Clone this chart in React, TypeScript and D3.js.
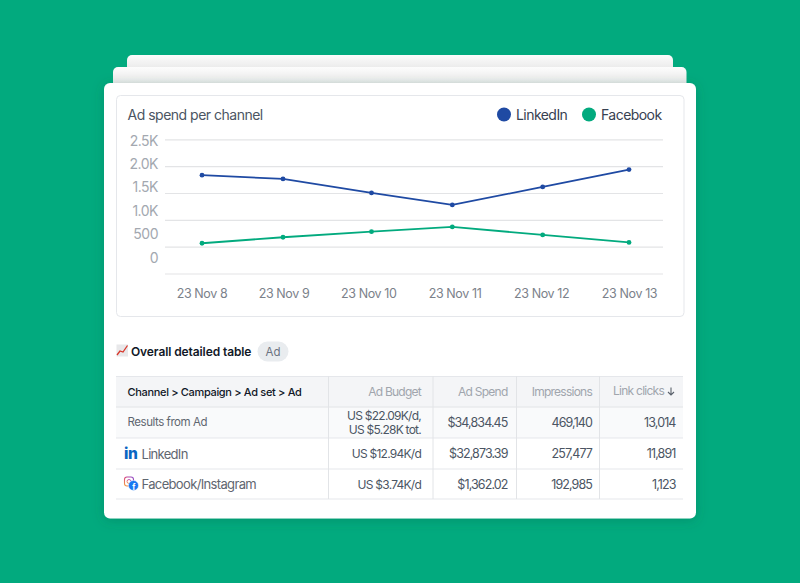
import React from "react";
import * as d3 from "d3";

const days = ["23 Nov 8", "23 Nov 9", "23 Nov 10", "23 Nov 11", "23 Nov 12", "23 Nov 13"];
const dayCentres = [202, 283, 371.5, 452.3, 542.7, 629];
const dayLabelCentres = [202, 284, 368.8, 455, 541.7, 629.5];
const linkedin = [1841, 1772, 1511, 1287, 1623, 1946];
const facebook = [573, 685, 789, 877, 728, 588];
const gridValues = [0, 500, 1000, 1500, 2000, 2500];
const yLabels = ["2.5K", "2.0K", "1.5K", "1.0K", "500", "0"];
const headers = ["Channel > Campaign > Ad set > Ad", "Ad Budget", "Ad Spend", "Impressions", "Link clicks"];
const rowNames = ["Results from Ad", "LinkedIn", "Facebook/Instagram"];
const budgets = [["US $22.09K/d,", "US $5.28K tot."], ["US $12.94K/d"], ["US $3.74K/d"]];
const spends = ["$34,834.45", "$32,873.39", "$1,362.02"];
const impressions = ["469,140", "257,477", "192,985"];
const clicks = ["13,014", "11,891", "1,123"];

const BLUE = "#1f4aa3";
const GREEN = "#02aa7e";
const FONT = "Inter, sans-serif";

export default function App() {
  const x = d3.scaleOrdinal<string, number>().domain(days).range(dayCentres);
  const xLabel = d3.scaleOrdinal<string, number>().domain(days).range(dayLabelCentres);
  const y = d3.scaleLinear().domain([0, 2500]).range([274, 139.8]);
  const labelY = d3.scalePoint<string>().domain(yLabels).range([140.5, 257.5]);
  const line = d3.line<number>().x((_, i) => x(days[i])).y((d) => y(d));
  const series = [
    { name: "LinkedIn", values: linkedin, color: BLUE },
    { name: "Facebook", values: facebook, color: GREEN },
  ];
  const colEdges = [116, 328.5, 433, 516.5, 599.5, 683];
  const rowEdges = [407, 438, 469, 499];
  const valueEnds = [507.5, 592, 675.5];
  const headerEnds = [421, 507.5, 592];
  return (
    <svg width={800} height={583} viewBox="0 0 800 583" style={{ position: "absolute", left: 0, top: 0 }} fontFamily={FONT}>
      <defs>
        <linearGradient id="back1" gradientUnits="userSpaceOnUse" x1="0" y1="55" x2="0" y2="67">
          <stop offset="0" stopColor="#fcfcfc" />
          <stop offset="1" stopColor="#ececec" />
        </linearGradient>
        <linearGradient id="back2" gradientUnits="userSpaceOnUse" x1="0" y1="67" x2="0" y2="83">
          <stop offset="0" stopColor="#fcfcfc" />
          <stop offset="1" stopColor="#ebebeb" />
        </linearGradient>
        <linearGradient id="ig" x1="0" y1="1" x2="1" y2="0">
          <stop offset="0" stopColor="#f5a23c" />
          <stop offset="0.5" stopColor="#d8457f" />
          <stop offset="1" stopColor="#8a4fd0" />
        </linearGradient>
        <filter id="shadow" x="-5%" y="-5%" width="110%" height="110%">
          <feDropShadow dx="0" dy="2" stdDeviation="6" floodColor="#00563f" floodOpacity="0.28" />
        </filter>
      </defs>
      <rect width={800} height={583} fill="#02aa7e" />
      <rect x={127} y={55} width={546} height={40} rx={5} fill="url(#back1)" />
      <rect x={113} y={67} width={573.5} height={40} rx={5} fill="url(#back2)" />
      <rect x={104} y={83} width={592} height={435.5} rx={6} fill="#fff" filter="url(#shadow)" />
      <rect x={116.5} y={95.5} width={567.5} height={221} rx={4} fill="#fff" stroke="#e5e7eb" />

      <text x={127.5} y={120} fontSize={14} letterSpacing={-0.5} fill="#4b5563">Ad spend per channel</text>
      {series.map((s, i) => {
        const cx = [504, 589][i];
        return (
          <g key={s.name}>
            <circle cx={cx} cy={114.5} r={7} fill={s.color} />
            <text x={cx + 12} y={119.5} fontSize={14} letterSpacing={-0.55} fill="#374151">{s.name}</text>
          </g>
        );
      })}

      {gridValues.map((v) => (
        <line key={v} x1={165} x2={663} y1={y(v)} y2={y(v)} stroke="#e3e4e6" strokeWidth={1.2} />
      ))}
      {yLabels.map((l) => (
        <text key={l} x={158} y={labelY(l)! + 5} textAnchor="end" fontSize={14} letterSpacing={-0.5} fill="#a3a8b0">{l}</text>
      ))}
      {days.map((d) => (
        <text key={d} x={xLabel(d)} y={298} textAnchor="middle" fontSize={12.5} letterSpacing={-0.4} fill="#7b818a">{d}</text>
      ))}
      {series.map((s) => (
        <g key={s.name}>
          <path d={line(s.values)!} fill="none" stroke={s.color} strokeWidth={1.8} />
          {s.values.map((v, i) => (
            <circle key={i} cx={x(days[i])} cy={y(v)} r={2.4} fill={s.color} />
          ))}
        </g>
      ))}

      <g>
        <rect x={116.5} y={344.5} width={11.5} height={12} fill="#e8e8ea" />
        <polyline points="117,355 120,351 123,352 127.5,345.5" fill="none" stroke="#d8362a" strokeWidth={1.3} />
      </g>
      <text x={131} y={356} fontSize={12} fontWeight={600} letterSpacing={-0.1} fill="#111827">Overall detailed table</text>
      <rect x={257.5} y={341.5} width={31} height={20} rx={10} fill="#e9ecef" />
      <text x={273} y={356} fontSize={11.5} textAnchor="middle" fill="#6b7280">Ad</text>

      <rect x={116} y={376} width={567} height={31} fill="#f4f5f7" />
      <rect x={116} y={407} width={567} height={31} fill="#f9fafb" />
      <line x1={116} x2={683} y1={376.5} y2={376.5} stroke="#e5e7eb" />
      <line x1={116} x2={683} y1={407} y2={407} stroke="#e9eaec" strokeWidth={1.5} />
      {rowEdges.slice(1).map((e) => (
        <line key={e} x1={116} x2={683} y1={e} y2={e} stroke="#e5e7eb" />
      ))}
      {colEdges.slice(1, 5).map((e) => (
        <line key={e} x1={e} x2={e} y1={376} y2={499} stroke="#e2e4e7" />
      ))}

      <text x={127.5} y={396} fontSize={11} fontWeight={500} letterSpacing={-0.33} fill="#111827">{headers[0]}</text>
      {headers.slice(1, 4).map((h, i) => (
        <text key={h} x={headerEnds[i]} y={396} fontSize={12} letterSpacing={-0.75} textAnchor="end" fill="#a0a5ad">{h}</text>
      ))}
      <text x={664} y={395} fontSize={12} letterSpacing={-0.75} textAnchor="end" fill="#a0a5ad">{headers[4]}</text>
      <path d="M671 387.5v7.5M668 392l3 3 3-3" fill="none" stroke="#5b626c" strokeWidth={1.1} />

      <text x={127.5} y={426} fontSize={11.5} letterSpacing={-0.45} fill="#5f6670">{rowNames[0]}</text>
      <text x={124} y={458.5} fontSize={15.5} fontWeight={800} letterSpacing={-0.4} fill="#0a66c2">in</text>
      <text x={141.5} y={458.5} fontSize={13} letterSpacing={-0.7} fill="#5f6670">{rowNames[1]}</text>
      <rect x={124.5} y={477} width={9} height={9} rx={2.5} fill="none" stroke="url(#ig)" strokeWidth={1.1} />
      <circle cx={129} cy={481.5} r={2} fill="none" stroke="url(#ig)" strokeWidth={0.9} />
      <circle cx={133.5} cy={485.5} r={5} fill="#1877f2" stroke="#fff" strokeWidth={0.5} />
      <text x={133.9} y={489.5} fontSize={8} fontWeight={700} textAnchor="middle" fill="#fff">f</text>
      <text x={141.5} y={488.5} fontSize={13} letterSpacing={-0.65} fill="#5f6670">{rowNames[2]}</text>

      {budgets.map((lines, r) =>
        lines.map((l, k) => (
          <text key={l} x={colEdges[2] - 12} y={lines.length > 1 ? 420 + k * 14 : rowEdges[r] + 20} fontSize={12} letterSpacing={-0.75} textAnchor="end" fill="#4b5563">{l}</text>
        ))
      )}
      {[spends, impressions, clicks].map((col, c) =>
        col.map((v, r) => (
          <text key={v} x={valueEnds[c]} y={rowEdges[r] + 20} fontSize={12.5} letterSpacing={-0.9} textAnchor="end" fill="#4b5563">{v}</text>
        ))
      )}
    </svg>
  );
}
